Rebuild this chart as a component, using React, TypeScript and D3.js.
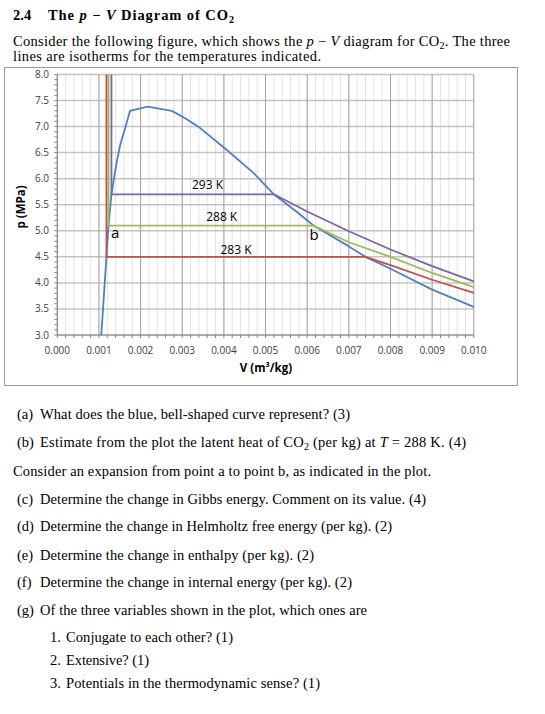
import React from 'react';
import * as d3 from 'd3';

// saturation dome (blue), V in m3/kg, p in MPa
const domeV = [0.001056, 0.00118, 0.00123, 0.0013, 0.00136, 0.00143, 0.00151, 0.00163, 0.001745, 0.00217, 0.00275, 0.00307, 0.00343, 0.00407, 0.00471, 0.0052, 0.0058, 0.00615, 0.007, 0.0074, 0.008, 0.009, 0.01];
const domeP = [3.0, 4.5, 5.1, 5.7, 6.0, 6.33, 6.65, 6.97, 7.3, 7.38, 7.3, 7.16, 6.97, 6.55, 6.11, 5.7, 5.33, 5.1, 4.7, 4.5, 4.27, 3.87, 3.54];

// isotherms
const t283V = [0.00118, 0.00118, 0.0074, 0.008, 0.009, 0.01];
const t283P = [8.0, 4.5, 4.5, 4.34, 4.06, 3.81];
const t288V = [0.00123, 0.00123, 0.00615, 0.007, 0.008, 0.009, 0.01];
const t288P = [8.0, 5.1, 5.1, 4.78, 4.5, 4.19, 3.92];
const t293V = [0.0013, 0.0013, 0.0052, 0.006, 0.007, 0.008, 0.009, 0.01];
const t293P = [8.0, 5.7, 5.7, 5.37, 4.99, 4.64, 4.32, 4.03];

const xMajor = d3.range(0, 0.01 + 1e-9, 0.001);
const xMinor = d3.range(0, 0.01 + 1e-9, 0.0002);
const yMajor = d3.range(3, 8 + 1e-9, 0.5);
const yMinor = d3.range(3, 8 + 1e-9, 0.1);

const serif = "'Liberation Serif', 'Times New Roman', serif";
const sans = "'Open Sans', 'Noto Sans', sans-serif";

type Seg = { t: string; i?: boolean; sub?: boolean };

function TLine(props: { x: number; y: number; w?: number; segs: Seg[]; size?: number; bold?: boolean }) {
  const size = props.size || 14.5;
  let prevSub = false;
  return (
    <text
      x={props.x}
      y={props.y}
      fontFamily={serif}
      fontSize={size}
      fontWeight={props.bold ? 'bold' : 'normal'}
      textLength={props.w}
      lengthAdjust={props.w ? 'spacing' : undefined}
      fill="#000"
    >
      {props.segs.map((s, k) => {
        let dy = 0;
        if (s.sub && !prevSub) dy = 3;
        if (!s.sub && prevSub) dy = -3;
        prevSub = !!s.sub;
        return (
          <tspan key={k} dy={dy || undefined} fontStyle={s.i ? 'italic' : undefined} fontSize={s.sub ? size * 0.7 : undefined}>
            {s.t}
          </tspan>
        );
      })}
    </text>
  );
}

const questions: [string, number, number, Seg[]][] = [
  ['(a)', 419, 310, [{ t: 'What does the blue, bell-shaped curve represent? (3)' }]],
  ['(b)', 447, 426, [{ t: 'Estimate from the plot the latent heat of CO' }, { t: '2', sub: true }, { t: ' (per kg) at ' }, { t: 'T', i: true }, { t: ' = 288 K. (4)' }]],
  ['(c)', 504, 386, [{ t: 'Determine the change in Gibbs energy. Comment on its value. (4)' }]],
  ['(d)', 531, 352, [{ t: 'Determine the change in Helmholtz free energy (per kg). (2)' }]],
  ['(e)', 560, 274, [{ t: 'Determine the change in enthalpy (per kg). (2)' }]],
  ['(f)', 587, 312, [{ t: 'Determine the change in internal energy (per kg). (2)' }]],
  ['(g)', 615, 327, [{ t: 'Of the three variables shown in the plot, which ones are' }]],
];

const subItems: [string, number, number, string][] = [
  ['1.', 642, 167, 'Conjugate to each other? (1)'],
  ['2.', 665, 83, 'Extensive? (1)'],
  ['3.', 688, 254, 'Potentials in the thermodynamic sense? (1)'],
];

export default function App() {
  const x = d3.scaleLinear().domain([0, 0.01]).range([57.3, 473.8]);
  const y = d3.scaleLinear().domain([3, 8]).range([335, 74.4]);
  const line = (vs: number[], ps: number[]) =>
    d3.line<number>().x((_, k) => x(vs[k])).y((_, k) => y(ps[k]))(vs) || '';

  const series: [number[], number[], string][] = [
    [domeV, domeP, '#4F81BD'],
    [t283V, t283P, '#C0504D'],
    [t288V, t288P, '#9BBB59'],
    [t293V, t293P, '#8064A2'],
  ];

  return (
    <svg width={545} height={714} style={{ position: 'absolute', left: 0, top: 0, background: '#fff' }}>
      <rect width={545} height={714} fill="#fff" />
      {/* header text */}
      <TLine x={13} y={20} segs={[{ t: '2.4' }]} size={14.5} bold />
      <TLine x={48} y={20} w={186} size={14.5} bold segs={[{ t: 'The ' }, { t: 'p', i: true }, { t: ' − ' }, { t: 'V', i: true }, { t: ' Diagram of CO' }, { t: '2', sub: true }]} />
      <TLine x={13} y={46} w={497} segs={[{ t: 'Consider the following figure, which shows the ' }, { t: 'p', i: true }, { t: ' − ' }, { t: 'V', i: true }, { t: ' diagram for CO' }, { t: '2', sub: true }, { t: '. The three' }]} />
      <TLine x={13} y={60.5} w={308} segs={[{ t: 'lines are isotherms for the temperatures indicated.' }]} />

      {/* chart frame */}
      <rect x={4.5} y={67.5} width={513} height={318} fill="#fff" stroke="#9a9a9a" strokeWidth={1} />

      {/* grid */}
      {xMinor.map((v, k) => (
        <line key={'xm' + k} x1={x(v)} x2={x(v)} y1={y(8)} y2={y(3)} stroke="#e3e3e3" strokeWidth={1} />
      ))}
      {yMajor.map((p, k) => (
        <line key={'yg' + k} x1={x(0)} x2={x(0.01)} y1={y(p)} y2={y(p)} stroke="#c4c4c4" strokeWidth={1.5} />
      ))}
      {xMajor.map((v, k) => (
        <line key={'xg' + k} x1={x(v)} x2={x(v)} y1={y(8)} y2={y(3)} stroke="#a3a3a3" strokeWidth={1} />
      ))}

      {/* axes */}
      <line x1={x(0)} x2={x(0)} y1={y(8)} y2={y(3)} stroke="#868686" />
      <line x1={x(0)} x2={x(0.01)} y1={y(3)} y2={y(3)} stroke="#868686" />
      {yMinor.map((p, k) => (
        <line key={'yt' + k} x1={x(0) - 3} x2={x(0)} y1={y(p)} y2={y(p)} stroke="#868686" />
      ))}
      {xMinor.map((v, k) => (
        <line key={'xt' + k} x1={x(v)} x2={x(v)} y1={y(3)} y2={y(3) + 3} stroke="#868686" />
      ))}
      {yMajor.map((p, k) => (
        <text key={'yl' + k} x={49} y={y(p)} dy="0.35em" textAnchor="end" fontFamily={sans} fontSize={10} fill="#404040">
          {d3.format('.1f')(p)}
        </text>
      ))}
      {xMajor.map((v, k) => (
        <text key={'xl' + k} x={x(v)} y={353.5} textAnchor="middle" fontFamily={sans} fontSize={10} fill="#404040">
          {d3.format('.3f')(v)}
        </text>
      ))}
      <text x={266} y={372} textAnchor="middle" fontFamily={sans} fontSize={11.5} fontWeight="bold" fill="#000">
        V (m³/kg)
      </text>
      <text transform="translate(25,207) rotate(-90)" textAnchor="middle" fontFamily={sans} fontSize={11.5} fontWeight="bold" fill="#000">
        p (MPa)
      </text>

      {/* series */}
      {series.map(([vs, ps, c], k) => (
        <path key={'s' + k} d={line(vs, ps)} fill="none" stroke={c} strokeWidth={1.8} strokeLinejoin="round" />
      ))}

      {/* annotations */}
      <text x={207.5} y={189} textAnchor="middle" fontFamily={sans} fontSize={12} fill="#000">293 K</text>
      <text x={221.7} y={221} textAnchor="middle" fontFamily={sans} fontSize={12} fill="#000">288 K</text>
      <text x={236} y={254} textAnchor="middle" fontFamily={sans} fontSize={12} fill="#000">283 K</text>
      <text x={111} y={238} fontFamily={sans} fontSize={15} fill="#000">a</text>
      <text x={309.5} y={240} fontFamily={sans} fontSize={15} fill="#000">b</text>

      {/* questions */}
      {questions.slice(0, 2).map(([lab, yy, w, segs]) => (
        <g key={lab}>
          <TLine x={17} y={yy} segs={[{ t: lab }]} />
          <TLine x={40} y={yy} w={w} segs={segs} />
        </g>
      ))}
      <TLine x={13} y={476} w={418} segs={[{ t: 'Consider an expansion from point a to point b, as indicated in the plot.' }]} />
      {questions.slice(2).map(([lab, yy, w, segs]) => (
        <g key={lab}>
          <TLine x={17} y={yy} segs={[{ t: lab }]} />
          <TLine x={40} y={yy} w={w} segs={segs} />
        </g>
      ))}
      {subItems.map(([lab, yy, w, t]) => (
        <g key={lab}>
          <TLine x={50} y={yy} segs={[{ t: lab }]} />
          <TLine x={66} y={yy} w={w} segs={[{ t }]} />
        </g>
      ))}
    </svg>
  );
}
